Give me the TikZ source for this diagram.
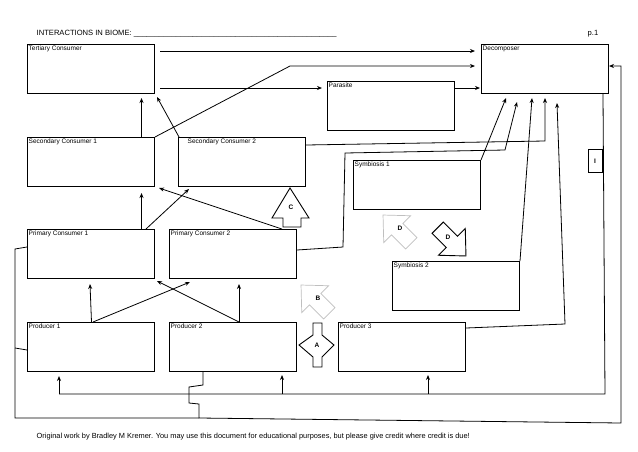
\documentclass[tikz,border=0pt]{standalone}
\usepackage{fontspec}
\setmainfont{Liberation Sans}
\usetikzlibrary{arrows.meta}
\begin{document}
\begin{tikzpicture}[x=1pt,y=-1pt,
  box/.style={draw,line width=1pt,anchor=north west,minimum width=127pt,minimum height=49pt,inner sep=0pt},
  lbl/.style={anchor=north west,inner sep=1.5pt,font=\fontsize{6.5}{7}\selectfont},
  con/.style={line width=0.8pt},
  arr/.style={con,-{Stealth[length=5pt,width=4pt]}},
  blk/.style={line width=0.9pt,fill=white},
  gry/.style={draw=black!25,line width=0.7pt,fill=white},
  let/.style={font=\fontsize{6.5}{7}\selectfont\bfseries}]
\useasboundingbox (0,0) rectangle (638,451);

% header and footer
\node[lbl,anchor=west,font=\fontsize{7.6}{8}\selectfont] (head) at (35,34) {INTERACTIONS IN BIOME: \_\_\_\_\_\_\_\_\_\_\_\_\_\_\_\_\_\_\_\_\_\_\_\_\_\_\_\_\_\_\_\_\_\_\_\_\_\_\_\_\_\_\_\_\_\_\_\_};
\node[lbl,anchor=west,font=\fontsize{7.6}{8}\selectfont] (pg) at (586,34) {p.1};
\node[lbl,anchor=west,font=\fontsize{7.4}{8}\selectfont] (foot) at (35,437) {Original work by Bradley M Kremer. You may use this document for educational purposes, but please give credit where credit is due!};

% boxes
\node[box] (ter) at (27,44) {};   \node[lbl] at (ter.north west) {Tertiary Consumer};
\node[box] (dec) at (481,44) {};  \node[lbl] at (dec.north west) {Decomposer};
\node[box] (par) at (327,81) {};  \node[lbl] at (par.north west) {Parasite};
\node[box] (sec1) at (27,137) {}; \node[lbl] at (sec1.north west) {Secondary Consumer 1};
\node[box] (sec2) at (178,137) {};\node[lbl] at ([xshift=8pt]sec2.north west) {Secondary Consumer 2};
\node[box] (sym1) at (353,160) {};\node[lbl] at (sym1.north west) {Symbiosis 1};
\node[box] (pri1) at (27,229) {}; \node[lbl] at (pri1.north west) {Primary Consumer 1};
\node[box] (pri2) at (169,229) {};\node[lbl] at (pri2.north west) {Primary Consumer 2};
\node[box] (sym2) at (392,261) {};\node[lbl] at (sym2.north west) {Symbiosis 2};
\node[box] (pro1) at (27,322) {}; \node[lbl] at (pro1.north west) {Producer 1};
\node[box] (pro2) at (169,322) {};\node[lbl] at (pro2.north west) {Producer 2};
\node[box] (pro3) at (338,322) {};\node[lbl] at (pro3.north west) {Producer 3};
\node[draw,line width=0.8pt,minimum width=14pt,minimum height=23pt,inner sep=0pt,let] (ibox) at (595,161) {I};

% connectors to decomposer and parasite
\draw[arr] ([shift={(5,7)}]ter.north east) -- ([shift={(-6,7)}]dec.north west);
\draw[arr] ([shift={(5,44)}]ter.north east) -- ([shift={(-5,7)}]par.north west);
\draw[arr] ([shift={(0,7)}]par.north east) -- ([shift={(-1,44)}]dec.north west);
\draw[arr] (sec1.north east) -- (290,66) -- ([shift={(-6,22)}]dec.north west);
\draw[arr] ([shift={(0,8)}]sec2.north east) -- (545,141) -- ([shift={(64,4)}]dec.south west);
\draw[arr] ([shift={(0,21)}]pri2.north east) -- (343,247) -- (345,153) -- (505,150) -- ([shift={(36,8)}]dec.south west);
\draw[arr] (sym1.north east) -- ([shift={(25,4)}]dec.south west);
\draw[arr] (sym2.north east) -- ([shift={(51,4)}]dec.south west);
\draw[arr] ([shift={(0,6)}]pro3.north east) -- (565,324) -- ([shift={(76,9)}]dec.south west);

% food chain arrows
\draw[arr] ([xshift=-13.5pt]sec1.north east) -- ([shift={(-13.5,4)}]ter.south east);
\draw[arr] ([xshift=1pt]sec2.north west) -- ([shift={(2,3)}]ter.south east);
\draw[arr] ([xshift=-13.5pt]pri1.north east) -- ([shift={(-13.5,6)}]sec1.south east);
\draw[arr] ([xshift=-9pt]pri1.north east) -- ([shift={(11,2)}]sec2.south west);
\draw[arr] ([xshift=-15pt]pri2.north east) -- ([shift={(4,1)}]sec1.south east);
\draw[arr] ([xshift=64.5pt]pro1.north west) -- ([shift={(63,5)}]pri1.south west);
\draw[arr] ([xshift=66pt]pro1.north west) -- ([shift={(21,3)}]pri2.south west);
\draw[arr] ([xshift=70pt]pro2.north west) -- ([shift={(2,2)}]pri1.south east);
\draw[arr] ([xshift=70pt]pro2.north west) -- ([shift={(70,5)}]pri2.south west);

% decomposer returns nutrients to producers
\coordinate (r1) at (605,394);
\draw[con] ([xshift=-6pt]dec.south east) -- (r1) -- (59,394);
\draw[arr] (59,394) -- ([shift={(32,4)}]pro1.south west);
\draw[arr] (282,394) -- ([shift={(113,3)}]pro2.south west);
\draw[arr] (428,394) -- ([shift={(90,3)}]pro3.south west);

% outer loop
\draw[arr] ([xshift=34pt]pro2.south west) -- (203,385) -- (189,387) -- (189,403) -- (199,404) -- (199,418) -- (621,423) -- (621,66) -- ([shift={(0,22)}]dec.north east);
\draw[con] (199,418) -- (15,418) -- (15,249) -- ([shift={(0,18)}]pri1.north west);
\draw[con] (15,348) -- ([shift={(0,28)}]pro1.north west);

% block arrows
\draw[blk] (290,188) -- (309,218) -- (301,218) -- (301,227) -- (283,227) -- (283,218) -- (272,218) -- cycle;
\node[let] (cl) at (291,207) {C};
\draw[blk] (313,323) -- (322,323) -- (322,335) -- (334,345) -- (322,357) -- (322,367) -- (313,367) -- (313,357) -- (299,345) -- (313,335) -- cycle;
\node[let] (al) at (317,345) {A};
\begin{scope}[shift={(318,302)},rotate=45]
\draw[gry] (0,-24) -- (19,-4) -- (8,-4) -- (8,16) -- (-8,16) -- (-8,-4) -- (-19,-4) -- cycle;
\end{scope}
\node[let] (bl) at (318,298) {B};
\begin{scope}[shift={(400,232)},rotate=45]
\draw[gry] (0,-24) -- (19,-4) -- (8,-4) -- (8,16) -- (-8,16) -- (-8,-4) -- (-19,-4) -- cycle;
\end{scope}
\node[let] (dl1) at (400,228) {D};
\begin{scope}[shift={(449,239)},rotate=225]
\draw[blk] (0,-24) -- (19,-4) -- (8,-4) -- (8,16) -- (-8,16) -- (-8,-4) -- (-19,-4) -- cycle;
\end{scope}
\node[let] (dl2) at (448,237) {D};
\end{tikzpicture}
\end{document}
